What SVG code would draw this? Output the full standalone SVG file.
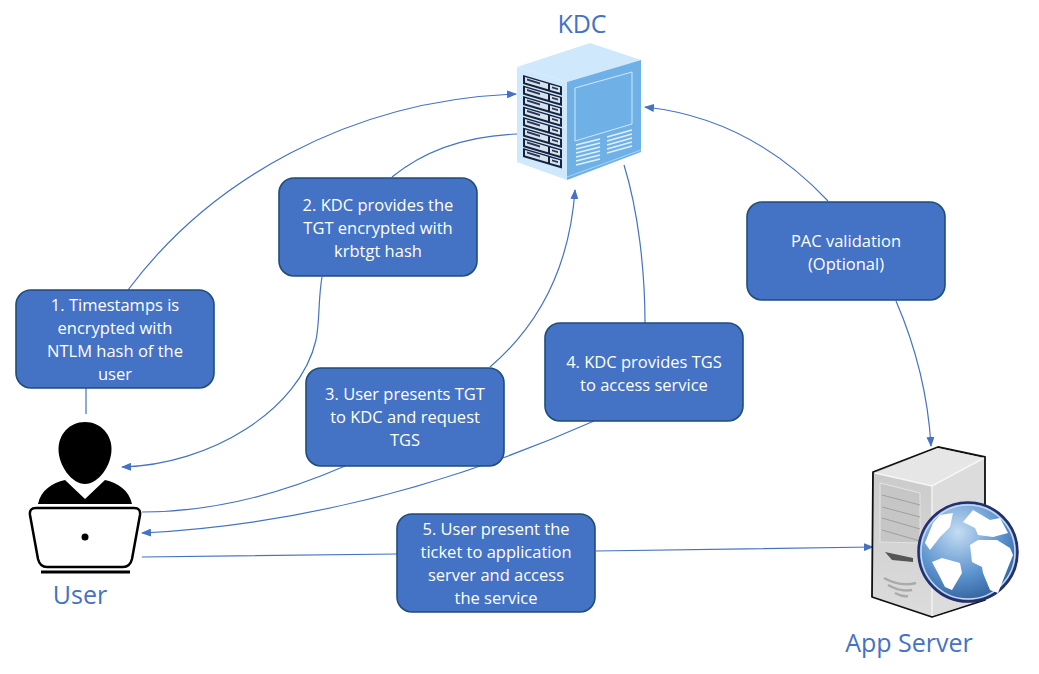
<svg xmlns="http://www.w3.org/2000/svg" width="1039" height="674" viewBox="0 0 1039 674">
<style>
.box{fill:#4472c4;stroke:#1f4e79;stroke-width:1.6}
.bt{font:16.5px "Open Sans","Noto Sans",sans-serif;fill:#fff;text-anchor:middle}
.title{font:25px "Open Sans","Noto Sans",sans-serif;fill:#4472c4;text-anchor:middle}
.c{fill:none;stroke:#4472c4;stroke-width:1.2}
.a{marker-end:url(#arr)}
</style>
<defs>
<marker id="arr" markerWidth="10" markerHeight="8" refX="9" refY="4" orient="auto" markerUnits="userSpaceOnUse"><path d="M0 0L10 4L0 8z" fill="#4472c4"/></marker>
<linearGradient id="sv" x1="0" y1="0" x2="0" y2="1"><stop offset="0" stop-color="#c8c8c8"/><stop offset="1" stop-color="#dcdcdc"/></linearGradient>
<radialGradient id="gl" cx=".4" cy=".3" r=".8"><stop offset="0" stop-color="#c4dcf2"/><stop offset=".55" stop-color="#5c93cf"/><stop offset="1" stop-color="#24558f"/></radialGradient>
<g id="unit">
<path d="M0 0L39 11.500V20.500L0 9z" fill="#14233f"/>
<path d="M2 2L25 8.800V14.300L2 7.500z" fill="#d8e0ea"/>
<path d="M27 9.400L37 12.300V17.800L27 14.900z" fill="#d8e0ea"/>
<path d="M4 3.600L17 7.400V9.400L4 5.600z" fill="#26375a"/>
<path d="M29 11.400L35 13.200V15L29 13.200z" fill="#26375a"/>
</g>
</defs>
<rect width="1039" height="674" fill="#fff"/>
<g id="connectors">
<path class="c a" d="M86 414L86 385M128 290C210 180 350 100 516 94"/>
<path class="c" d="M517 134C465 136 425 150 392 177"/>
<path class="c a" d="M322 277C318 300 320 320 316 340C300 410 210 465 122 467"/>
<path class="c" d="M142 512C220 512 290 490 345 466"/>
<path class="c a" d="M490 367C545 320 570 260 575 190"/>
<path class="c" d="M624 165C638 210 645 270 645 323"/>
<path class="c a" d="M594 421C450 485 300 525 142 533"/>
<path class="c a" d="M142 557L397 554M596 551L873 547"/>
<path class="c a" d="M828 201C780 150 720 115 645 107"/>
<path class="c a" d="M896 301C915 345 928 395 931 446"/>
</g>
<g id="kdc">
<path d="M517 67L590 43L641 60L567 82z" fill="#cfe8fb"/>
<path d="M517 67L567 82V180L517 162z" fill="#cfe8fb"/>
<path d="M567 82L641 60V152L567 180z" fill="#6fb1e6"/>
<path d="M575 88L632 72V124L575 141z" fill="#6fb1e6" stroke="#cfe8fb" stroke-width="1"/>
<path d="M576 145L600 139M576 149L600 143M576 153L600 147M576 157L600 151M576 161L600 155M576 165L600 159M607 137L632 130M607 141L632 134M607 145L632 138M607 149L632 142M607 153L632 146" stroke="#dff0fc" stroke-width="1.600"/>
<path d="M567 177L641 150" stroke="#a9d4f3" stroke-width="1"/>
<use href="#unit" x="523" y="75"/><use href="#unit" x="523" y="85.500"/><use href="#unit" x="523" y="96"/><use href="#unit" x="523" y="106.500"/><use href="#unit" x="523" y="117"/><use href="#unit" x="523" y="127.500"/><use href="#unit" x="523" y="138"/><use href="#unit" x="523" y="148"/>
<text class="title" x="582" y="33">KDC</text>
</g>
<g id="user">
<path d="M85 422C101 422 111.500 435 111.500 449C111.500 466 98 484 85 484C72 484 58.500 466 58.500 449C58.500 435 69 422 85 422z"/>
<path d="M38 504C41 490 52 483 65 480L85 499L105 480C118 483 129 490 132 504z"/>
<path d="M36 508H134Q141 508 140 515L132 559Q130 567 123 567H47Q40 567 38 559L30 515Q29 508 36 508z" fill="#fff" stroke="#000" stroke-width="2.500"/>
<circle cx="85" cy="537" r="3.500"/>
<rect x="41" y="570.500" width="89" height="3"/>
<text class="title" x="80" y="604">User</text>
</g>
<g id="appserver">
<path d="M873 472L938 447L985 457V600L932 617L872 597z" fill="url(#sv)" stroke="#111" stroke-width="1.800" stroke-linejoin="round"/>
<path d="M932 486L984 458V599L932 616z" fill="#dcdcdc"/>
<path d="M875 473L932 486L984 458L938 448z" fill="#e6e6e6"/>
<path d="M875 473L932 486L984 458" fill="none" stroke="#f6f6f6" stroke-width="1.500"/>
<path d="M932 486V616" stroke="#f2f2f2" stroke-width="1.500"/>
<path d="M880 483L920 493V543L880 542z" fill="#c6c6c6" stroke="#e4e4e4"/>
<path d="M882 495L920 505M882 507L920 517M882 518L920 529M882 530L920 541" stroke="#a0a0a0" stroke-width="1"/>
<path d="M885 552L913 558V562L892 560z" fill="#555"/>
<path d="M884 578Q900 587 916 583M888 585Q900 592 912 590M895 593Q902 597 908 596" stroke="#aaa" stroke-width="2.500" fill="none"/>
<circle cx="968" cy="552" r="49.500" fill="url(#gl)" stroke="#232f6e" stroke-width="2.500"/>
<circle cx="968" cy="552" r="47" fill="none" stroke="#c8d8ec" stroke-width="1.500"/>
<path d="M925 543L933 523L940 515L953 513L950 527L940 537L930 550z" fill="#fff"/>
<path d="M932 562L942 558L960 563L962 573L952 590L945 587L940 577z" fill="#fff"/>
<path d="M970 545L978 540L997 540L1010 548L1013 555L1007 570L998 593L990 590L983 573L982 567L972 562z" fill="#fff"/>
<path d="M963 522L973 510L990 520L1000 518L1008 533L993 537L978 535L975 528z" fill="#fff"/>
<text class="title" x="909" y="652">App Server</text>
</g>
<g id="box1"><rect class="box" x="16" y="290" width="198" height="98" rx="15"/><text class="bt" x="115" y="311">1. Timestamps is</text><text class="bt" x="115" y="334">encrypted with</text><text class="bt" x="115" y="357">NTLM hash of the</text><text class="bt" x="115" y="380">user</text></g>
<g id="box2"><rect class="box" x="279" y="178" width="198" height="98" rx="15"/><text class="bt" x="378" y="211">2. KDC provides the</text><text class="bt" x="378" y="234">TGT encrypted with</text><text class="bt" x="378" y="257">krbtgt hash</text></g>
<g id="box3"><rect class="box" x="306" y="368" width="198" height="98" rx="15"/><text class="bt" x="405" y="400">3. User presents TGT</text><text class="bt" x="405" y="423">to KDC and request</text><text class="bt" x="405" y="446">TGS</text></g>
<g id="box4"><rect class="box" x="545" y="323" width="198" height="98" rx="15"/><text class="bt" x="644" y="368">4. KDC provides TGS</text><text class="bt" x="644" y="391">to access service</text></g>
<g id="box5"><rect class="box" x="397" y="514" width="198" height="98" rx="15"/><text class="bt" x="496" y="535">5. User present the</text><text class="bt" x="496" y="558">ticket to application</text><text class="bt" x="496" y="581">server and access</text><text class="bt" x="496" y="604">the service</text></g>
<g id="box6"><rect class="box" x="747" y="202" width="198" height="98" rx="15"/><text class="bt" x="846" y="247">PAC validation</text><text class="bt" x="846" y="270">(Optional)</text></g>
</svg>
